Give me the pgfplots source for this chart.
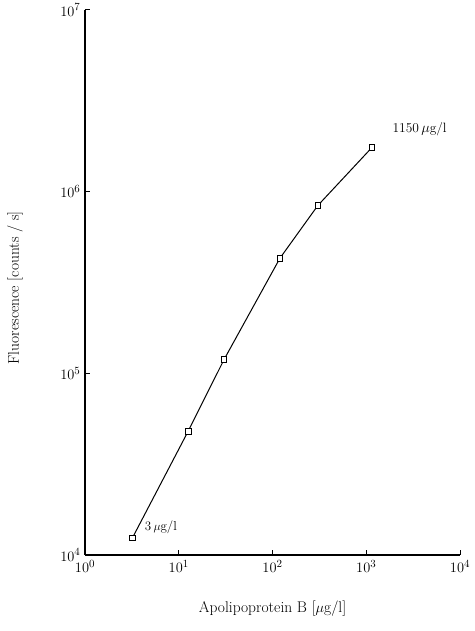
\documentclass[border=0pt]{standalone}
\usepackage{pgfplots}
\pgfplotsset{compat=1.18}

\begin{document}
\begin{tikzpicture}
\begin{axis}[
    scale only axis,
    width=375pt, height=545pt,
    xmode=log, ymode=log,
    xmin=1, xmax=10000,
    ymin=10000, ymax=10000000,
    axis x line*=bottom,
    axis y line*=left,
    axis line style={-, line width=1.2pt},
    xminorticks=false, yminorticks=false,
    tick align=inside,
    major tick length=5pt,
    major tick style={line width=1pt, black},
    xtick={1,10,100,1000,10000},
    ytick={10000,100000,1000000,10000000},
    tick label style={font=\fontsize{15}{17}\selectfont},
    xticklabel style={yshift=-2pt},
    yticklabel style={xshift=-1pt},
    xlabel={Apolipoprotein B [$\mu$g/l]},
    ylabel={Fluorescence [counts / s]},
    label style={font=\fontsize{15.5}{18}\selectfont},
    xlabel style={at={(axis description cs:0.5,0)}, anchor=center, yshift=-54pt},
    ylabel style={at={(axis description cs:0,0.49)}, anchor=center, yshift=70pt},
    clip=false,
]
\addplot[black, line width=1pt, mark=square*, mark size=2.8pt,
    mark options={fill=white, line width=0.9pt}]
    coordinates {
    (3.2, 12400)(12.6, 48000)(30.4, 119000)(120, 430000)(305, 840000)(1150, 1750000)
    };
\node[anchor=west, font=\fontsize{13}{15}\selectfont] at (axis cs:4.0,14300) {3\,$\mu$g/l};
\node[anchor=west, font=\fontsize{13.5}{15}\selectfont] at (axis cs:1750,2200000) {1150\,$\mu$g/l};
\end{axis}
\path (-85pt,-76pt) rectangle (389pt,555pt);
\end{tikzpicture}
\end{document}
